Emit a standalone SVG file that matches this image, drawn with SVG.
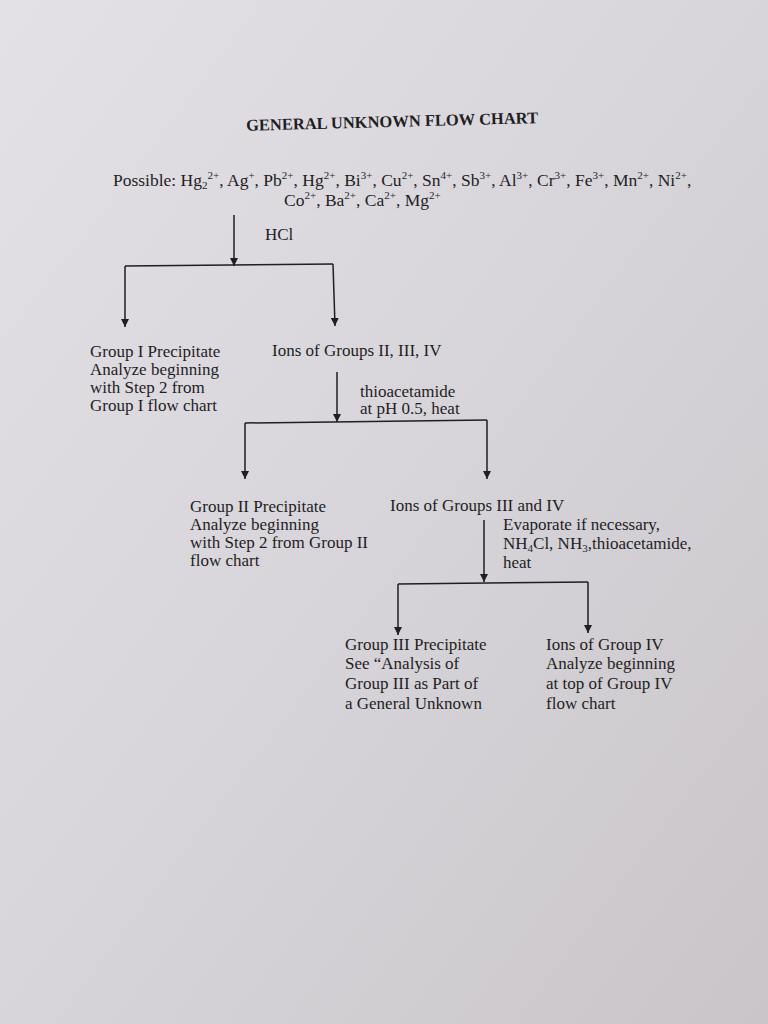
<svg xmlns="http://www.w3.org/2000/svg" width="768" height="1024" viewBox="0 0 768 1024">
<defs>
<marker id="ah" viewBox="0 0 10 10" refX="10" refY="5" markerWidth="10" markerHeight="8" orient="auto" markerUnits="userSpaceOnUse"><path d="M0,0 L10,5 L0,10 Z" fill="#1e1e24"/></marker>
<linearGradient id="bg" x1="0" y1="0" x2="1" y2="1"><stop offset="0" stop-color="#e4e1e6"/><stop offset="0.5" stop-color="#d8d5da"/><stop offset="1" stop-color="#c9c5c9"/></linearGradient>
</defs>
<style>
text{font-family:"Liberation Serif","Times New Roman",serif;fill:#1e1e24;font-size:17px}
.t{font-weight:bold;font-size:16.5px}
.p{font-size:17.5px}
.c{stroke:#1e1e24;stroke-width:1.5;fill:none}
.a{marker-end:url(#ah)}
</style>
<rect width="768" height="1024" fill="url(#bg)"/>
<g id="title"><text class="t" x="246" y="127" transform="rotate(-1.5 390 120)">GENERAL UNKNOWN FLOW CHART</text></g>
<g id="possible">
<text class="p" x="113" y="186">Possible: Hg<tspan font-size="11" dy="3">2</tspan><tspan font-size="11" dy="-10">2+</tspan><tspan dy="7">, Ag</tspan><tspan font-size="11" dy="-7">+</tspan><tspan dy="7">, Pb</tspan><tspan font-size="11" dy="-7">2+</tspan><tspan dy="7">, Hg</tspan><tspan font-size="11" dy="-7">2+</tspan><tspan dy="7">, Bi</tspan><tspan font-size="11" dy="-7">3+</tspan><tspan dy="7">, Cu</tspan><tspan font-size="11" dy="-7">2+</tspan><tspan dy="7">, Sn</tspan><tspan font-size="11" dy="-7">4+</tspan><tspan dy="7">, Sb</tspan><tspan font-size="11" dy="-7">3+</tspan><tspan dy="7">, Al</tspan><tspan font-size="11" dy="-7">3+</tspan><tspan dy="7">, Cr</tspan><tspan font-size="11" dy="-7">3+</tspan><tspan dy="7">, Fe</tspan><tspan font-size="11" dy="-7">3+</tspan><tspan dy="7">, Mn</tspan><tspan font-size="11" dy="-7">2+</tspan><tspan dy="7">, Ni</tspan><tspan font-size="11" dy="-7">2+</tspan><tspan dy="7">,</tspan></text>
<text class="p" x="284" y="206">Co<tspan font-size="11" dy="-7">2+</tspan><tspan dy="7">,  Ba</tspan><tspan font-size="11" dy="-7">2+</tspan><tspan dy="7">, Ca</tspan><tspan font-size="11" dy="-7">2+</tspan><tspan dy="7">, Mg</tspan><tspan font-size="11" dy="-7">2+</tspan></text>
</g>
<g id="connectors">
<line class="c a" x1="234" y1="215" x2="234" y2="266"/>
<polyline class="c" points="125,266 333,264"/>
<line class="c a" x1="125" y1="266" x2="125" y2="327"/>
<line class="c a" x1="333" y1="264" x2="335" y2="326"/>
<line class="c a" x1="337" y1="372" x2="337" y2="422"/>
<polyline class="c" points="245,423 487,420"/>
<line class="c a" x1="245" y1="423" x2="245" y2="479"/>
<line class="c a" x1="487" y1="420" x2="487" y2="479"/>
<line class="c a" x1="484" y1="520" x2="484" y2="582"/>
<polyline class="c" points="398,584 588,582"/>
<line class="c a" x1="398" y1="584" x2="398" y2="635"/>
<line class="c a" x1="588" y1="582" x2="588" y2="633"/>
</g>
<g id="hcl"><text x="265" y="240">HCl</text></g>
<g id="group1"><text x="90" y="357">Group I Precipitate</text><text x="90" y="375">Analyze beginning</text><text x="90" y="393">with Step 2 from</text><text x="90" y="411">Group I flow chart</text></g>
<g id="ions234"><text x="272" y="356">Ions of Groups II, III, IV</text></g>
<g id="thio"><text x="360" y="397">thioacetamide</text><text x="360" y="414">at pH 0.5, heat</text></g>
<g id="group2"><text x="190" y="512">Group II Precipitate</text><text x="190" y="530">Analyze beginning</text><text x="190" y="548">with Step 2 from Group II</text><text x="190" y="566">flow chart</text></g>
<g id="ions34"><text x="390" y="511">Ions of Groups III and IV</text></g>
<g id="evap"><text x="503" y="530">Evaporate if necessary,</text><text x="503" y="549">NH<tspan font-size="11" dy="3">4</tspan><tspan dy="-3">Cl, NH</tspan><tspan font-size="11" dy="3">3</tspan><tspan dy="-3">,thioacetamide,</tspan></text><text x="503" y="568">heat</text></g>
<g id="group3"><text x="345" y="650">Group III Precipitate</text><text x="345" y="669">See “Analysis of</text><text x="345" y="689">Group III as Part of</text><text x="345" y="709">a General Unknown</text></g>
<g id="ions4"><text x="546" y="650">Ions of Group IV</text><text x="546" y="669">Analyze beginning</text><text x="546" y="689">at top of Group IV</text><text x="546" y="709">flow chart</text></g>
</svg>
